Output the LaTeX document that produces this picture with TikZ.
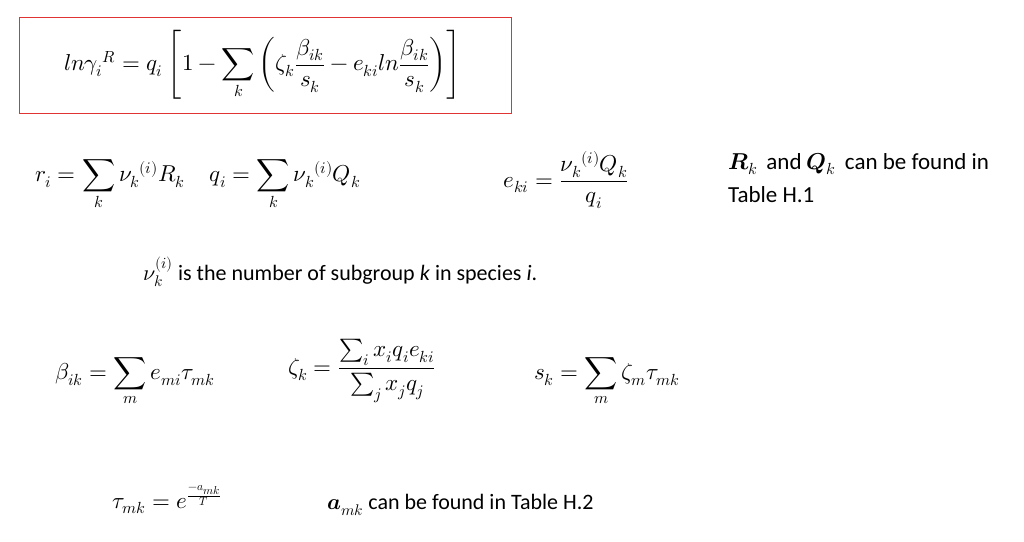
\documentclass[tikz,border=0pt]{standalone}
\usepackage{amsmath}
\usepackage{fontspec}
\usepackage{unicode-math}
\setmainfont{Carlito}
\setmathfont{Latin Modern Math}
\definecolor{boxred}{rgb}{0.88,0.2,0.2}
\begin{document}
\begin{tikzpicture}[x=1pt,y=-1pt,
  eq/.style={inner sep=0pt,font=\fontsize{23}{27}\selectfont},
  txt/.style={inner sep=0pt,anchor=west,font=\fontsize{22}{26}\selectfont}]
\useasboundingbox (0,0) rectangle (1024,541);
\draw[boxred,line width=0.9pt] (19,17) rectangle (511,113);
\node[eq] (main) at (263,65) {$ln\gamma_i{}^R = q_i\left[1-\displaystyle\sum_k\left(\zeta_k\frac{\beta_{ik}}{s_k}-e_{ki}ln\frac{\beta_{ik}}{s_k}\right)\right]$};
\node[eq] (r) at (110,185) {$r_i=\displaystyle\sum_k \nu_k{}^{(i)}R_k$};
\node[eq] (q) at (285,185) {$q_i=\displaystyle\sum_k \nu_k{}^{(i)}Q_k$};
\node[eq] (e) at (566,180) {$e_{ki}=\dfrac{\nu_k{}^{(i)}Q_k}{q_i}$};
\node[txt,font=\fontsize{23}{27}\selectfont] (t1) at (728,164) {$\symbfit{R}_{k}$\, and $\symbfit{Q}_{k}$\, can be found in};
\node[txt,font=\fontsize{23}{27}\selectfont] (t2) at (728,195) {Table H.1};
\node[txt] (nu) at (143,272) {$\nu_k^{(i)}$ is the number of subgroup \textit{k} in species \textit{i}.};
\node[eq] (b) at (135,382) {$\beta_{ik}=\displaystyle\sum_m e_{mi}\tau_{mk}$};
\node[eq] (z) at (362,371) {$\zeta_k=\dfrac{\sum_i x_iq_ie_{ki}}{\sum_j x_jq_j}$};
\node[eq] (s) at (607,382) {$s_k=\displaystyle\sum_m \zeta_m\tau_{mk}$};
\node[eq] (tau) at (167,500) {$\tau_{mk}=e^{\frac{-a_{mk}}{T}}$};
\node[txt] (a) at (327,505) {$\symbfit{a}_{mk}$ can be found in Table H.2};
\end{tikzpicture}
\end{document}
